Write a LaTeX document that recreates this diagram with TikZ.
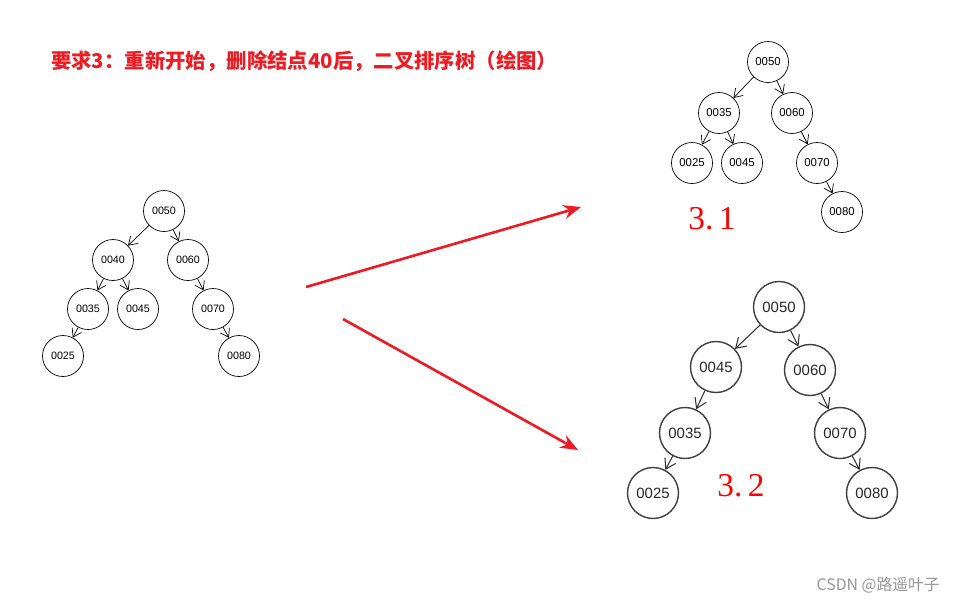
\documentclass[tikz,border=0pt]{standalone}
\usepackage{fontspec}
\setmainfont{Liberation Sans}
\newfontfamily\cjk{Noto Sans CJK SC}
\newfontfamily\numserif{Liberation Serif}
\usetikzlibrary{arrows.meta}
\definecolor{markred}{RGB}{237,28,36}
\definecolor{wmgray}{RGB}{150,150,150}

\tikzset{
  key/.style={draw, circle, inner sep=0pt, minimum size=41*0.02cm, font=\fontsize{6.1}{7}\selectfont},
  keyA/.style={key, font=\fontsize{6.5}{7}\selectfont},
  keyB/.style={draw=black!75, circle, line width=0.8pt, inner sep=0pt, minimum size=51*0.02cm, text=black!85, font=\fontsize{8.5}{9}\selectfont},
  link/.style={-{Straight Barb[length=4.5pt,width=6pt]}, line width=0.4pt},
  linkB/.style={link, draw=black!80, line width=0.6pt, -{Straight Barb[length=5.5pt,width=7pt]}},
  bigarrow/.style={markred, line width=1.5pt, -{Stealth[length=10pt,width=8pt]}}
}

\begin{document}
\begin{tikzpicture}[x=0.02cm, y=-0.02cm]
        \useasboundingbox (0,0) rectangle (962,603);

        % title
        \node[anchor=west, text=markred, font=\cjk\bfseries\fontsize{11.6}{12}\selectfont] (title) at (45,61)
            {要求3：重新开始，删除结点40后，二叉排序树（绘图）};

        % tree before deletion
        \node[key] (a50) at (164,211) {0050};
        \node[key] (a40) at (113,260) {0040};
        \node[key] (a60) at (188,260) {0060};
        \node[key] (a35) at (88,309) {0035};
        \node[key] (a45) at (138,309) {0045};
        \node[key] (a70) at (213,309) {0070};
        \node[key] (a25) at (63,356) {0025};
        \node[key] (a80) at (239,356) {0080};
        \draw[link] (a50) -- (a40);
        \draw[link] (a50) -- (a60);
        \draw[link] (a40) -- (a35);
        \draw[link] (a40) -- (a45);
        \draw[link] (a60) -- (a70);
        \draw[link] (a35) -- (a25);
        \draw[link] (a70) -- (a80);

        % arrows to both results
        \coordinate (s1) at (306,287);
        \coordinate (e1) at (581,207);
        \coordinate (s2) at (343,319);
        \coordinate (e2) at (578,450);
        \draw[bigarrow] (s1) -- (e1);
        \draw[bigarrow] (s2) -- (e2);

        % result 3.1
        \node[keyA] (b50) at (768,62) {0050};
        \node[keyA] (b35) at (719,113) {0035};
        \node[keyA] (b60) at (792,113) {0060};
        \node[keyA] (b25) at (692,163) {0025};
        \node[keyA] (b45) at (742,163) {0045};
        \node[keyA] (b70) at (817,163) {0070};
        \node[keyA] (b80) at (842,212) {0080};
        \draw[link] (b50) -- (b35);
        \draw[link] (b50) -- (b60);
        \draw[link] (b35) -- (b25);
        \draw[link] (b35) -- (b45);
        \draw[link] (b60) -- (b70);
        \draw[link] (b70) -- (b80);
        \node[text=red, font=\numserif\fontsize{19}{20}\selectfont] (lab1) at (712,219) {3.\,1};

        % result 3.2
        \node[keyB] (c50) at (779,307) {0050};
        \node[keyB] (c45) at (716,367) {0045};
        \node[keyB] (c60) at (810,370) {0060};
        \node[keyB] (c35) at (685,433) {0035};
        \node[keyB] (c70) at (840,433) {0070};
        \node[keyB] (c25) at (653,493) {0025};
        \node[keyB] (c80) at (872,493) {0080};
        \draw[linkB] (c50) -- (c45);
        \draw[linkB] (c50) -- (c60);
        \draw[linkB] (c45) -- (c35);
        \draw[linkB] (c60) -- (c70);
        \draw[linkB] (c35) -- (c25);
        \draw[linkB] (c70) -- (c80);
        \node[text=red, font=\numserif\fontsize{19}{20}\selectfont] (lab2) at (741,486) {3.\,2};

        % watermark
        \node[anchor=east, text=wmgray, font=\cjk\fontsize{9}{10}\selectfont] (mark) at (946,585) {CSDN @路遥叶子};
    \end{tikzpicture}
\end{document}
